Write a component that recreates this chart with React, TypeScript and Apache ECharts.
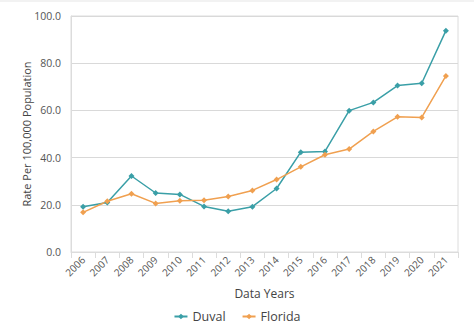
import React, { useEffect, useRef } from "react";
import * as echarts from "echarts";

const years = ["2006","2007","2008","2009","2010","2011","2012","2013","2014","2015","2016","2017","2018","2019","2020","2021"];
const duval = [19.2, 21.0, 32.2, 25.0, 24.4, 19.3, 17.3, 19.2, 26.9, 42.3, 42.6, 59.9, 63.4, 70.5, 71.5, 93.8];
const florida = [16.8, 21.5, 24.7, 20.6, 21.7, 21.9, 23.5, 26.1, 30.7, 36.1, 41.2, 43.6, 51.1, 57.3, 57.0, 74.6];
const yTicks = { min: 0, max: 100, interval: 20 };

export default function App() {
  const ref = useRef<HTMLDivElement>(null);
  useEffect(() => {
    const chart = echarts.init(ref.current!, null, { renderer: "svg" });
    const font = "'Open Sans', 'Noto Sans', sans-serif";
    chart.setOption({
      animation: false,
      backgroundColor: "#fff",
      textStyle: { fontFamily: font },
      grid: { left: 71, right: 16, top: 16, bottom: 84, show: true, borderColor: "#dcdcdc", borderWidth: 1 },
      legend: {
        bottom: 8,
        left: "center",
        itemWidth: 13,
        itemHeight: 7,
        itemGap: 16,
        textStyle: { color: "#444", fontSize: 12.5, fontFamily: font },
        data: ["Duval", "Florida"],
      },
      xAxis: {
        type: "category",
        data: years,
        boundaryGap: true,
        name: "Data Years",
        nameLocation: "middle",
        nameMoveOverlap: false,
        nameGap: 35,
        nameTextStyle: { color: "#444", fontSize: 12, fontFamily: font },
        axisLine: { lineStyle: { color: "#dcdcdc" } },
        axisTick: { show: true, alignWithLabel: false, length: 6, lineStyle: { color: "#dcdcdc" } },
        axisLabel: { rotate: 45, color: "#555", fontSize: 10, margin: 6, interval: 0, fontFamily: font },
      },
      yAxis: {
        type: "value",
        min: yTicks.min,
        max: yTicks.max,
        interval: yTicks.interval,
        name: "Rate Per 100,000 Population",
        nameLocation: "middle",
        nameMoveOverlap: false,
        nameGap: 39,
        nameTextStyle: { color: "#444", fontSize: 11, fontFamily: font },
        axisLine: { show: true, lineStyle: { color: "#dcdcdc" } },
        axisTick: { show: false },
        splitLine: { lineStyle: { color: "#d9d9d9", width: 1 } },
        axisLabel: { color: "#555", fontSize: 10.5, margin: 10, formatter: (v: number) => v.toFixed(1), fontFamily: font },
      },
      series: [
        {
          name: "Duval",
          type: "line",
          data: duval,
          symbol: "diamond",
          symbolSize: 6,
          color: "#3a9fa7",
          lineStyle: { width: 1.5, color: "#3a9fa7" },
          itemStyle: { color: "#3a9fa7" },
        },
        {
          name: "Florida",
          type: "line",
          data: florida,
          symbol: "diamond",
          symbolSize: 6,
          color: "#f0a050",
          lineStyle: { width: 1.5, color: "#f0a050" },
          itemStyle: { color: "#f0a050" },
        },
      ],
    });
    return () => chart.dispose();
  }, []);
  return (
    <div style={{ position: "absolute", left: 0, top: 0, width: 474, height: 336, background: "#fff" }}>
      <div style={{ position: "absolute", left: 0, top: 0, width: 474, height: 2, background: "#f2f2f2", zIndex: 2 }} />
      <div ref={ref} style={{ width: 474, height: 336 }} />
    </div>
  );
}
